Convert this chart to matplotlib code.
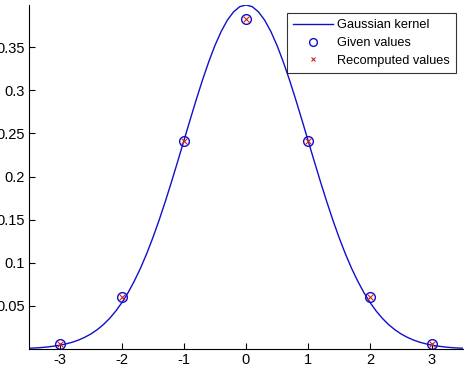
import matplotlib
matplotlib.use('Agg')
import matplotlib.pyplot as plt

# curve (x step 0.1)
curve_x = [-3.5, -3.4, -3.3, -3.2, -3.1, -3.0, -2.9, -2.8, -2.7, -2.6, -2.5, -2.4, -2.3, -2.2, -2.1,
           -2.0, -1.9, -1.8, -1.7, -1.6, -1.5, -1.4, -1.3, -1.2, -1.1, -1.0, -0.9, -0.8, -0.7, -0.6,
           -0.5, -0.4, -0.3, -0.2, -0.1, 0.0, 0.1, 0.2, 0.3, 0.4, 0.5, 0.6, 0.7, 0.8, 0.9,
           1.0, 1.1, 1.2, 1.3, 1.4, 1.5, 1.6, 1.7, 1.8, 1.9, 2.0, 2.1, 2.2, 2.3, 2.4,
           2.5, 2.6, 2.7, 2.8, 2.9, 3.0, 3.1, 3.2, 3.3, 3.4, 3.5]
curve_y = [0.0009, 0.0012, 0.0017, 0.0024, 0.0033, 0.0044, 0.0060, 0.0079, 0.0104, 0.0136,
           0.0175, 0.0224, 0.0283, 0.0355, 0.0440, 0.0540, 0.0656, 0.0790, 0.0940, 0.1109,
           0.1295, 0.1497, 0.1714, 0.1942, 0.2179, 0.2420, 0.2661, 0.2897, 0.3123, 0.3332,
           0.3521, 0.3683, 0.3814, 0.3910, 0.3970, 0.3989, 0.3970, 0.3910, 0.3814, 0.3683,
           0.3521, 0.3332, 0.3123, 0.2897, 0.2661, 0.2420, 0.2179, 0.1942, 0.1714, 0.1497,
           0.1295, 0.1109, 0.0940, 0.0790, 0.0656, 0.0540, 0.0440, 0.0355, 0.0283, 0.0224,
           0.0175, 0.0136, 0.0104, 0.0079, 0.0060, 0.0044, 0.0033, 0.0024, 0.0017, 0.0012,
           0.0009]

pts_x = [-3, -2, -1, 0, 1, 2, 3]
given = [0.0060, 0.0606, 0.2417, 0.3829, 0.2417, 0.0606, 0.0060]
recomputed = [0.0060, 0.0606, 0.2417, 0.3829, 0.2417, 0.0606, 0.0060]

yticks = [0.05, 0.1, 0.15, 0.2, 0.25, 0.3, 0.35]
ytick_labels = ['0.05', '0.1', '0.15', '0.2', '0.25', '0.3', '0.35']
xticks = [-3, -2, -1, 0, 1, 2, 3]
xtick_labels = ['-3', '-2', '-1', '0', '1', '2', '3']

plt.rcParams['font.family'] = ['Liberation Sans', 'DejaVu Sans']

fig = plt.figure(figsize=(4.7, 3.66), dpi=100)
ax = fig.add_axes([29/470, 17/366, 434/470, 344/366])

ax.plot(curve_x, curve_y, color='#1010c8', lw=1, label='Gaussian kernel')
ax.plot(pts_x, given, 'o', mfc='none', mec='#1010c8', ms=7, mew=1, label='Given values')
ax.plot(pts_x, recomputed, 'x', color='#d02020', ms=4, mew=0.8, label='Recomputed values')

ax.set_xlim(-3.5, 3.5)
ax.set_ylim(0, 0.3989)
ax.set_xticks(xticks)
ax.set_xticklabels(xtick_labels)
ax.set_yticks(yticks)
ax.set_yticklabels(ytick_labels)
ax.tick_params(direction='in', length=4, labelsize=10.5, pad=3)
ax.spines['top'].set_visible(False)
ax.spines['right'].set_visible(False)

leg = ax.legend(loc='upper right', bbox_to_anchor=(456/470, 353/366), bbox_transform=fig.transFigure,
                fontsize=9.2, frameon=True, fancybox=False, handlelength=3.1, borderpad=0.5,
                labelspacing=0.45, handletextpad=0.3, borderaxespad=0, markerscale=0.8)
leg.get_frame().set_edgecolor('black')
leg.get_frame().set_linewidth(0.8)

fig.savefig('out.png', dpi=100)
